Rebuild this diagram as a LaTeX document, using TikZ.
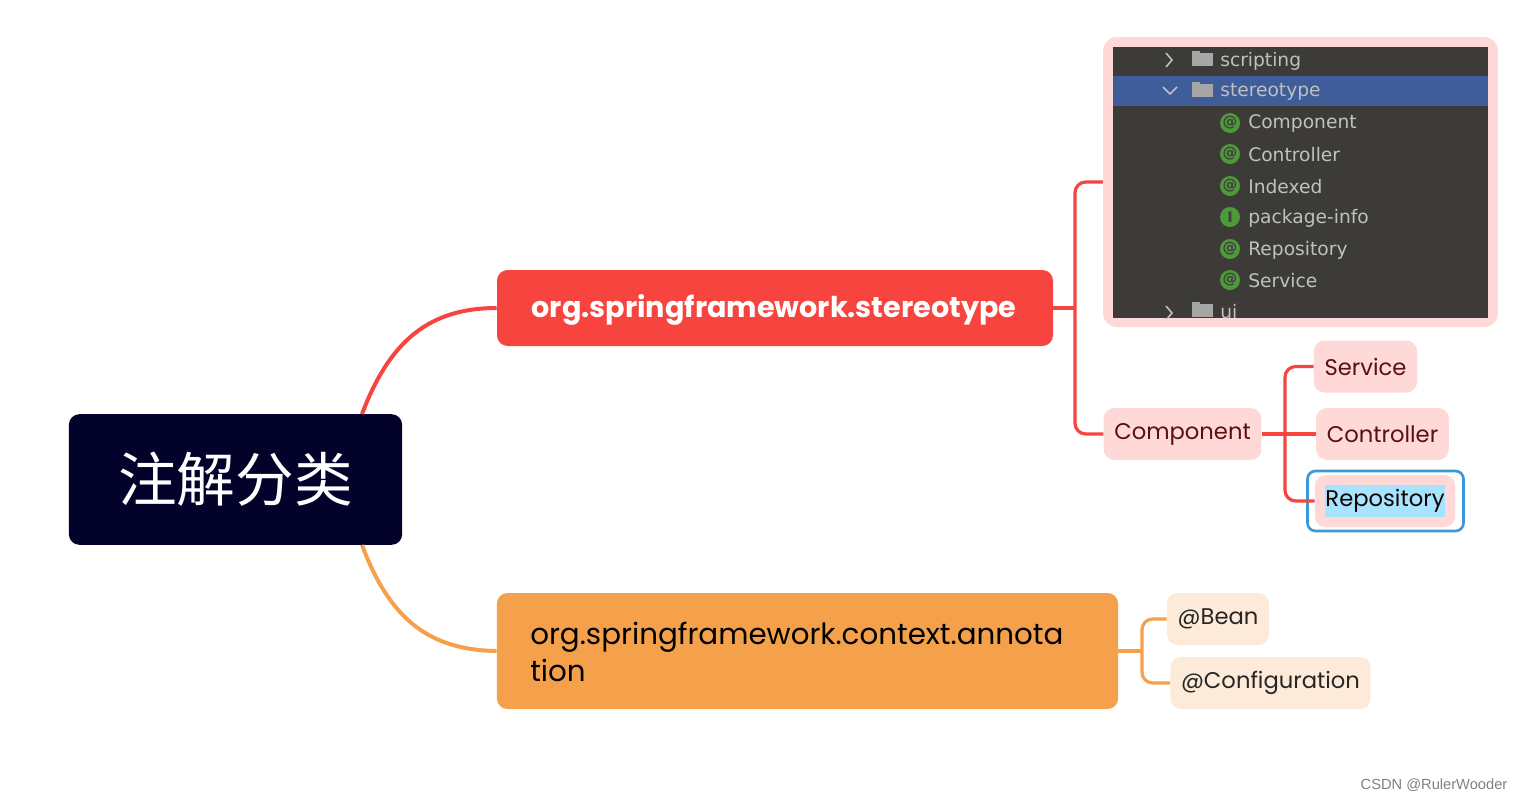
\documentclass[tikz,border=0pt]{standalone}
\usepackage{fontspec}
\setmainfont{Poppins}
\newfontfamily\cjk{Noto Sans CJK SC}
\newfontfamily\ide{DejaVu Sans}
\definecolor{navy}{HTML}{02022A}
\definecolor{redn}{HTML}{F7443E}
\definecolor{orn}{HTML}{F5A14C}
\definecolor{pinkn}{HTML}{FFD9D8}
\definecolor{peach}{HTML}{FDEAD8}
\definecolor{brownt}{HTML}{5A1010}
\definecolor{ide}{HTML}{3D3B37}
\definecolor{idesel}{HTML}{3F5D99}
\definecolor{idetext}{HTML}{C0C0C0}
\definecolor{idegreen}{HTML}{4E9A3A}
\begin{document}
\begin{tikzpicture}[x=0.75pt,y=-0.75pt,
  redl/.style={draw=redn,line width=2.4pt,rounded corners=8pt},
  orl/.style={draw=orn,line width=2.4pt,rounded corners=8pt},
  sub/.style={fill=pinkn,rounded corners=8pt,text=brownt,font=\fontsize{17}{20}\selectfont,inner xsep=8pt,minimum height=39pt},
  subo/.style={fill=peach,rounded corners=8pt,text=black!85,font=\fontsize{17}{20}\selectfont,inner xsep=8pt,minimum height=39pt},
  idet/.style={text=idetext,anchor=west,font=\ide\fontsize{14}{16}\selectfont,inner sep=0pt},
  aticon/.style={circle,fill=idegreen,minimum size=15pt,inner sep=0pt,text=black!75,font=\ide\bfseries\fontsize{11}{11}\selectfont}]
\useasboundingbox (0,0) rectangle (1528,801);
% root
\node[fill=navy,rounded corners=8pt,minimum width=250pt,minimum height=98pt,text=white,font=\cjk\fontsize{44}{50}\selectfont] (root) at (235.5,479.5) {注解分类};
% main nodes
\node[fill=redn,rounded corners=8pt,minimum width=417pt,minimum height=57pt] (st) at (775,308) {};
\node[text=white,font=\bfseries\fontsize{21.5}{26}\selectfont] (sttext) at (774,310) {org.springframework.stereotype};
\node[fill=orn,rounded corners=8pt,minimum width=466pt,minimum height=87pt] (ca) at (807.5,651) {};
\node[anchor=west,align=left,font=\fontsize{22}{28}\selectfont,text=black,inner sep=0pt] (catext) at (530,652) {org.springframework.context.annota\\tion};
% curves
\draw[redn,line width=3pt] (362,414) .. controls (390,340) and (430,308) .. (st.west);
\draw[orn,line width=3pt] (362,545) .. controls (390,620) and (430,650) .. (ca.west);
% panel
\node[fill=pinkn,rounded corners=10pt,minimum width=296pt,minimum height=217.5pt] (panel) at (1300.5,182) {};
\fill[ide] (1113,47) rectangle (1488,318);
\fill[idesel] (1113,76) rectangle (1488,106);
\begin{scope}
\clip (1113,47) rectangle (1488,318);
\foreach \y/\t in {60/scripting,91/stereotype,311/ui}{
  \fill[gray!70] (1192,\y-7) rectangle (1213,\y+6);
  \fill[gray!70] (1192,\y-9) rectangle (1200,\y-6);
  \node[idet] at (1220,\y+1) {\t};
}
\draw[idetext,line width=1.2pt] (1166,53) -- (1172,60) -- (1166,67);
\draw[idetext,line width=1.2pt] (1166,306) -- (1172,313) -- (1166,320);
\draw[idetext,line width=1.2pt] (1163,87) -- (1170,94) -- (1177,87);
\foreach \y/\t/\s in {123/Component/@,154/Controller/@,186/Indexed/@,217/package-info/I,249/Repository/@,280/Service/@}{
  \node[aticon] at (1230,\y) {\s};
  \node[idet] at (1248,\y+1) {\t};
}
\end{scope}
% red subtree
\node[sub] (comp) at (1182.5,434) {Component};
\node[sub] (serv) at (1365.5,366.5) {Service};
\node[sub] (ctrl) at (1382.5,434) {Controller};
\node[draw=cyan!70!blue!80,line width=2pt,rounded corners=6pt,minimum width=117pt,minimum height=45pt] (sel) at (1385.5,501) {};
\node[sub,text=black!80!brownt] (repo) at (1385,501) {\colorbox{blue!30!cyan!35}{\kern-3pt Repository\kern-3pt}};
\coordinate (j1) at (1075,308);
\draw[redl] (st.east) -- (j1);
\draw[redl] (panel.west) -- (1075,182) -- (1075,434) -- (comp.west);
\draw[redl] (comp.east) -- (ctrl.west);
\draw[redl] (serv.west) -- (1285,366.5) -- (1285,501) -- (repo.west);
% orange subtree
\node[subo] (bean) at (1218,619) {@Bean};
\node[subo] (conf) at (1270.5,683) {@Configuration};
\draw[orl] (ca.east) -- (1142,651);
\draw[orl] (bean.west) -- (1142,619) -- (1142,683) -- (conf.west);
\node[text=gray,font=\fontspec{Liberation Sans}\fontsize{11}{12}\selectfont] (wm) at (1434,785) {CSDN @RulerWooder};
\end{tikzpicture}
\end{document}
